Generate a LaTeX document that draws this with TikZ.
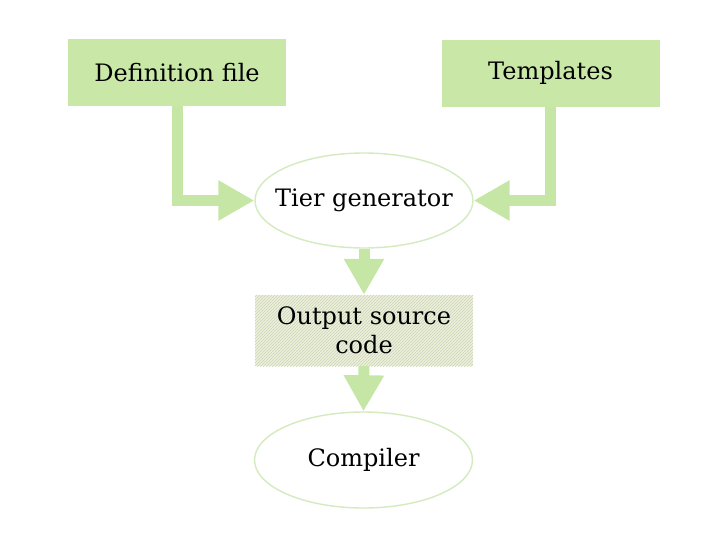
\documentclass[tikz,border=0pt]{standalone}
\usepackage{fontspec}
\setmainfont{DejaVu Serif}
\usetikzlibrary{shapes.geometric,arrows.meta,patterns}
\definecolor{boxgreen}{HTML}{C9E8A8}
\definecolor{arrgreen}{HTML}{C6E6A6}
\definecolor{ellgreen}{HTML}{D3EBBF}
\definecolor{hatchbg}{HTML}{ECF0DE}
\definecolor{hatchln}{HTML}{CCD4B2}
\begin{document}
\begin{tikzpicture}[x=1pt,y=-1pt,
  every node/.style={font=\fontsize{24}{29}\selectfont, text=black, align=center},
  greenbox/.style={rectangle, fill=boxgreen, minimum width=218pt, minimum height=67pt, inner sep=0pt},
  oval/.style={ellipse, draw=ellgreen, line width=1.4pt, fill=white, minimum width=218pt, minimum height=95pt, inner sep=0pt},
  hatchbox/.style={rectangle, preaction={fill=hatchbg}, pattern=north east lines, pattern color=hatchln, minimum width=218pt, minimum height=71pt, inner sep=0pt},
  fatarrow/.style={draw=arrgreen, line width=11pt, -{Triangle[length=36pt,width=38pt]}}
]
\useasboundingbox (0,0) rectangle (728,546);
\node[greenbox] (def) at (177,72.5) {Definition file};
\node[greenbox] (tpl) at (550.5,73) {Templates};
\node[oval] (tier) at (364,200.5) {};
\node (tiertext) at (tier.center) {Tier generator};
\node[hatchbox] (out) at (364,330.5) {Output source\\code};
\node[oval, minimum height=96pt] (comp) at (363.5,460) {};
\node (comptext) at (comp.center) {Compiler};
\draw[fatarrow] (def.south) |- (tier.west);
\draw[fatarrow] (tpl.south) |- (tier.east);
\draw[fatarrow] (tier.south) -- (out.north);
\draw[fatarrow] (out.south) -- (comp.north);
\end{tikzpicture}
\end{document}
